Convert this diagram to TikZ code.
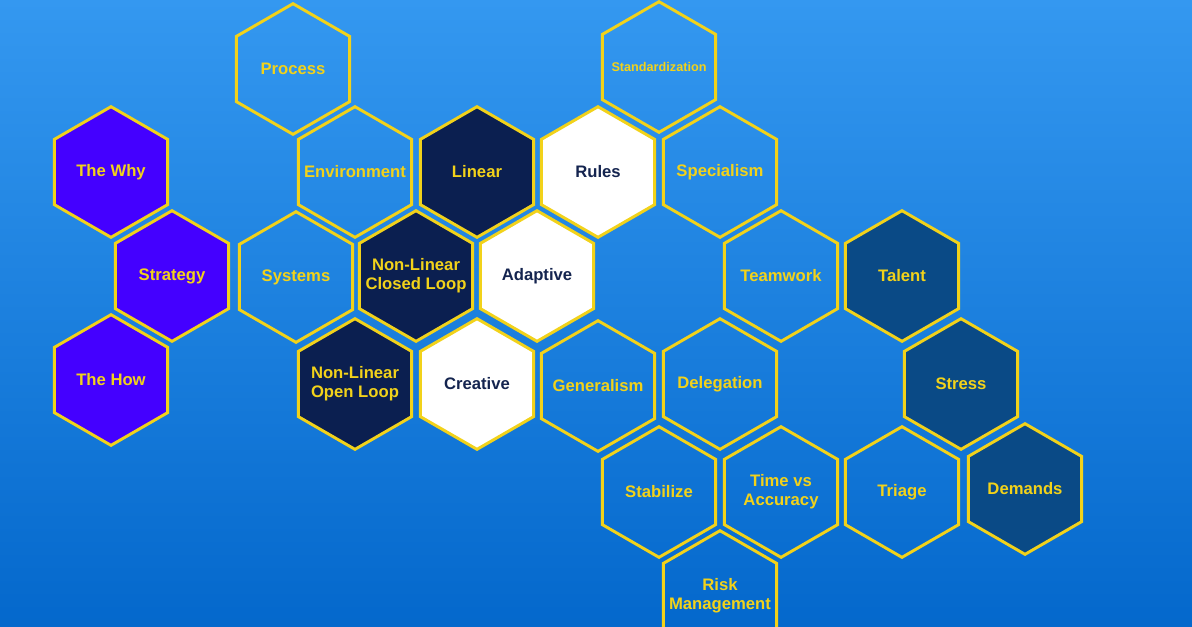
\documentclass[tikz,border=0pt]{standalone}
\usepackage{fontspec}
\setmainfont{Liberation Sans}
\usetikzlibrary{shapes.geometric}
\definecolor{ylw}{HTML}{F2D21A}
\definecolor{purp}{HTML}{4400FF}
\definecolor{navy}{HTML}{0B1F50}
\definecolor{dblue}{HTML}{0A4A86}
\definecolor{txtd}{HTML}{14244F}
\tikzset{
  hex/.style={regular polygon, regular polygon sides=6, shape border rotate=30,
    minimum size=98pt, inner sep=0pt, draw=ylw, line width=2.2pt},
  hp/.style={hex, fill=purp},
  hn/.style={hex, fill=navy},
  hd/.style={hex, fill=dblue},
  hw/.style={hex, fill=white},
  lbl/.style={text=ylw, font=\bfseries\fontsize{12.5}{14}\selectfont, align=center, inner sep=0pt},
  lbw/.style={lbl, text=txtd},
}
\newcommand{\hx}[5]{\node[#1] (#2) at (#3) {}; \node[#4] (#2-t) at (#2) {#5};}
\begin{document}
\begin{tikzpicture}[x=0.75pt,y=-0.75pt]
\fill[top color={rgb,255:red,52;green,152;blue,240}, bottom color={rgb,255:red,4;green,104;blue,204}] (0,0) rectangle (1192,626);
\useasboundingbox (0,0) rectangle (1192,626);
\hx{hex}{process}{293,69}{lbl}{Process}
\hx{hex}{std}{659,67}{lbl, font=\bfseries\fontsize{9.5}{11}\selectfont}{Standardization}
\hx{hp}{why}{111,172}{lbl}{The Why}
\hx{hex}{env}{355,172}{lbl}{Environment}
\hx{hn}{lin}{477,172}{lbl}{Linear}
\hx{hw}{rules}{598,172}{lbw}{Rules}
\hx{hex}{spec}{720,172}{lbl}{Specialism}
\hx{hp}{strat}{172,276}{lbl}{Strategy}
\hx{hex}{sys}{296,277}{lbl}{Systems}
\hx{hn}{nlcl}{416,276}{lbl}{Non-Linear\\Closed Loop}
\hx{hw}{adapt}{537,276}{lbw}{Adaptive}
\hx{hex}{team}{781,276}{lbl}{Teamwork}
\hx{hd}{talent}{902,276}{lbl}{Talent}
\hx{hp}{how}{111,380}{lbl}{The How}
\hx{hn}{nlol}{355,384}{lbl}{Non-Linear\\Open Loop}
\hx{hw}{creat}{477,384}{lbw}{Creative}
\hx{hex}{gen}{598,386}{lbl}{Generalism}
\hx{hex}{deleg}{720,384}{lbl}{Delegation}
\hx{hd}{stress}{961,384}{lbl}{Stress}
\hx{hex}{stab}{659,492}{lbl}{Stabilize}
\hx{hex}{tva}{781,492}{lbl}{Time vs\\Accuracy}
\hx{hex}{triage}{902,492}{lbl}{Triage}
\hx{hd}{dem}{1025,489}{lbl}{Demands}
\hx{hex}{risk}{720,596}{lbl}{Risk\\Management}
\end{tikzpicture}
\end{document}
